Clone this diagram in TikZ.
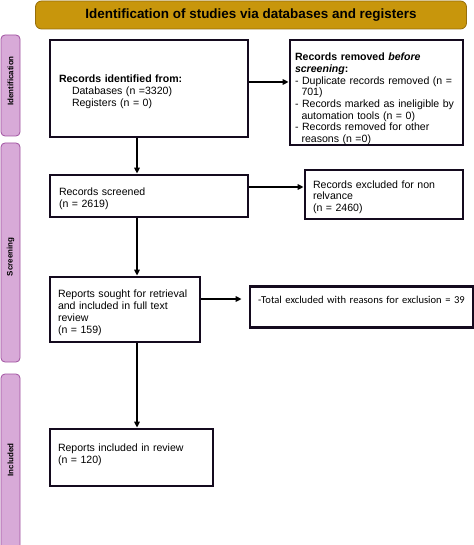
\documentclass[tikz,border=0pt]{standalone}
\usepackage{fontspec}
\setmainfont{Liberation Sans}
\newfontfamily\calfont{Carlito}
\usetikzlibrary{arrows.meta,positioning,calc}
\definecolor{headgold}{RGB}{200,150,12}
\definecolor{headedge}{RGB}{150,110,10}
\definecolor{phasefill}{RGB}{216,170,216}
\definecolor{phaseedge}{RGB}{160,82,160}
\definecolor{boxedge}{RGB}{20,10,30}

\begin{document}
\begin{tikzpicture}[
    x=1bp, y=-1bp,
    box/.style={draw=boxedge, line width=2.8pt, fill=white, align=left, inner xsep=8bp,
      text height=14bp, font=\fontsize{10.6}{11.8}\selectfont},
    phase/.style={draw=phaseedge, line width=0.8pt, fill=phasefill, rounded corners=4bp},
    phaselabel/.style={rotate=90, font=\bfseries\fontsize{8}{9}\selectfont},
    arr/.style={-{Triangle[length=6bp,width=5.5bp]}, line width=1.4pt},
    >=Latex
]
  \useasboundingbox (0,0) rectangle (474,545);

  % header
  \node[draw=headedge, line width=0.8pt, fill=headgold, rounded corners=6bp,
        minimum width=431bp, minimum height=28bp,
        font=\bfseries\fontsize{13.5}{15}\selectfont] (head) at (251,15) {Identification of studies via databases and registers};

  % phase bars
  \draw[phase] (1,35) rectangle (20,136);
  \draw[phase] (1,143) rectangle (20,362);
  \draw[phase] (1,374) rectangle (20,552);
  \node[phaselabel] (lidentification) at (10.5,81) {Identification};
  \node[phaselabel] (lscreening) at (10.5,257) {Screening};
  \node[phaselabel] (lincluded) at (10.5,460) {Included};

  % boxes
  \node[box, minimum width=198bp, minimum height=97bp, text width=180bp] (ident) at (149,88.5)
    {\textbf{Records identified from:}\\
     \hspace*{13bp}Databases (n =3320)\\
     \hspace*{13bp}Registers (n = 0)};
  \node[box, minimum width=173bp, minimum height=105bp, text width=163bp, inner xsep=5bp,
        inner ysep=0pt, text height=20.6bp, font=\fontsize{10.6}{11.7}\selectfont] (removed) at (376.5,92.5)
    {\textbf{Records removed \textit{before}}\\
     \textbf{\textit{screening}:}\\
     - Duplicate records removed (n =\\
     \hspace*{6.5bp}701)\\
     - Records marked as ineligible by\\
     \hspace*{6.5bp}automation tools (n = 0)\\
     - Records removed for other\\
     \hspace*{6.5bp}reasons (n =0)};
  \node[box, minimum width=198bp, minimum height=42bp, text width=180bp, text height=13bp] (screened) at (149,196)
    {Records screened\\(n = 2619)};
  \node[box, minimum width=158bp, minimum height=49bp, text width=142bp, text height=13bp] (excluded) at (384,194.5)
    {Records excluded for non\\relvance\\(n = 2460)};
  \node[box, minimum width=150bp, minimum height=65bp, text width=134bp] (sought) at (125,309.5)
    {Reports sought for retrieval\\and included in full text\\review\\(n = 159)};
  \node[box, minimum width=223bp, minimum height=38bp, text width=207bp, text depth=21bp,
        font=\calfont\fontsize{10.6}{12}\selectfont] (fulltext) at (361.5,307)
    {-Total excluded with reasons for exclusion = 39};
  \node[box, minimum width=163bp, minimum height=57bp, text width=147bp, text depth=26bp] (included) at (131.5,457.5)
    {Reports included in review\\(n = 120)};

  % connectors
  \coordinate (spine) at (137,0);
  \draw[arr] (ident.south -| spine) -- (screened.north -| spine);
  \draw[arr] (screened.south -| spine) -- (sought.north -| spine);
  \draw[arr] (sought.south -| spine) -- (included.north -| spine);
  \draw[arr] ([yshift=6.5bp]ident.east) -- ([yshift=6.5bp]ident.east -| removed.west);
  \draw[arr] ([yshift=9bp]screened.east) -- ([yshift=9bp]screened.east -| excluded.west);
  \draw[arr, shorten >=7bp] ([yshift=10.5bp]sought.east) -- ([yshift=10.5bp]sought.east -| fulltext.west);
\end{tikzpicture}
\end{document}
